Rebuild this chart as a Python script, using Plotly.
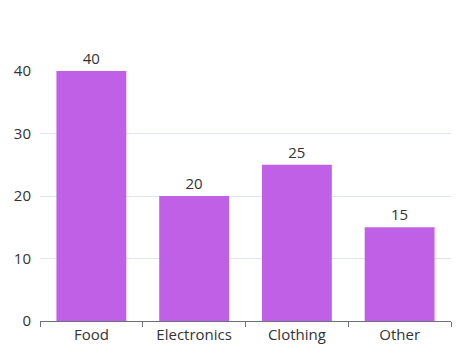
import plotly.graph_objects as go

categories = ["Food", "Electronics", "Clothing", "Other"]
values = [40, 20, 25, 15]
y_ticks = [0, 10, 20, 30, 40]

fig = go.Figure(go.Bar(
    x=categories, y=values,
    marker=dict(color="#c060e6", line=dict(width=0)),
    text=[str(v) for v in values], textposition="outside",
    textfont=dict(size=15, color="#333333"),
    cliponaxis=False, width=0.68,
))
fig.update_layout(
    width=466, height=347,
    margin=dict(l=32, r=23, t=63, b=34, autoexpand=False),
    paper_bgcolor="white", plot_bgcolor="white",
    font=dict(family="Open Sans, Noto Sans, sans-serif", size=15, color="#333333"),
    showlegend=False,
)
fig.update_xaxes(
    automargin=False,
    showline=True, linecolor="#6e7079", linewidth=1,
    ticks="outside", tickson="boundaries", ticklen=5, tickcolor="#6e7079",
    showgrid=False, tickfont=dict(size=15, color="#333333"),
)
fig.update_yaxes(
    automargin=False,
    range=[0, 40], tickvals=y_ticks, showgrid=True, gridcolor="#e0e6f1",
    zeroline=False, showline=False, ticks="", ticklabelstandoff=8,
    tickfont=dict(size=15, color="#333333"),
)
fig.write_html("out.html")
